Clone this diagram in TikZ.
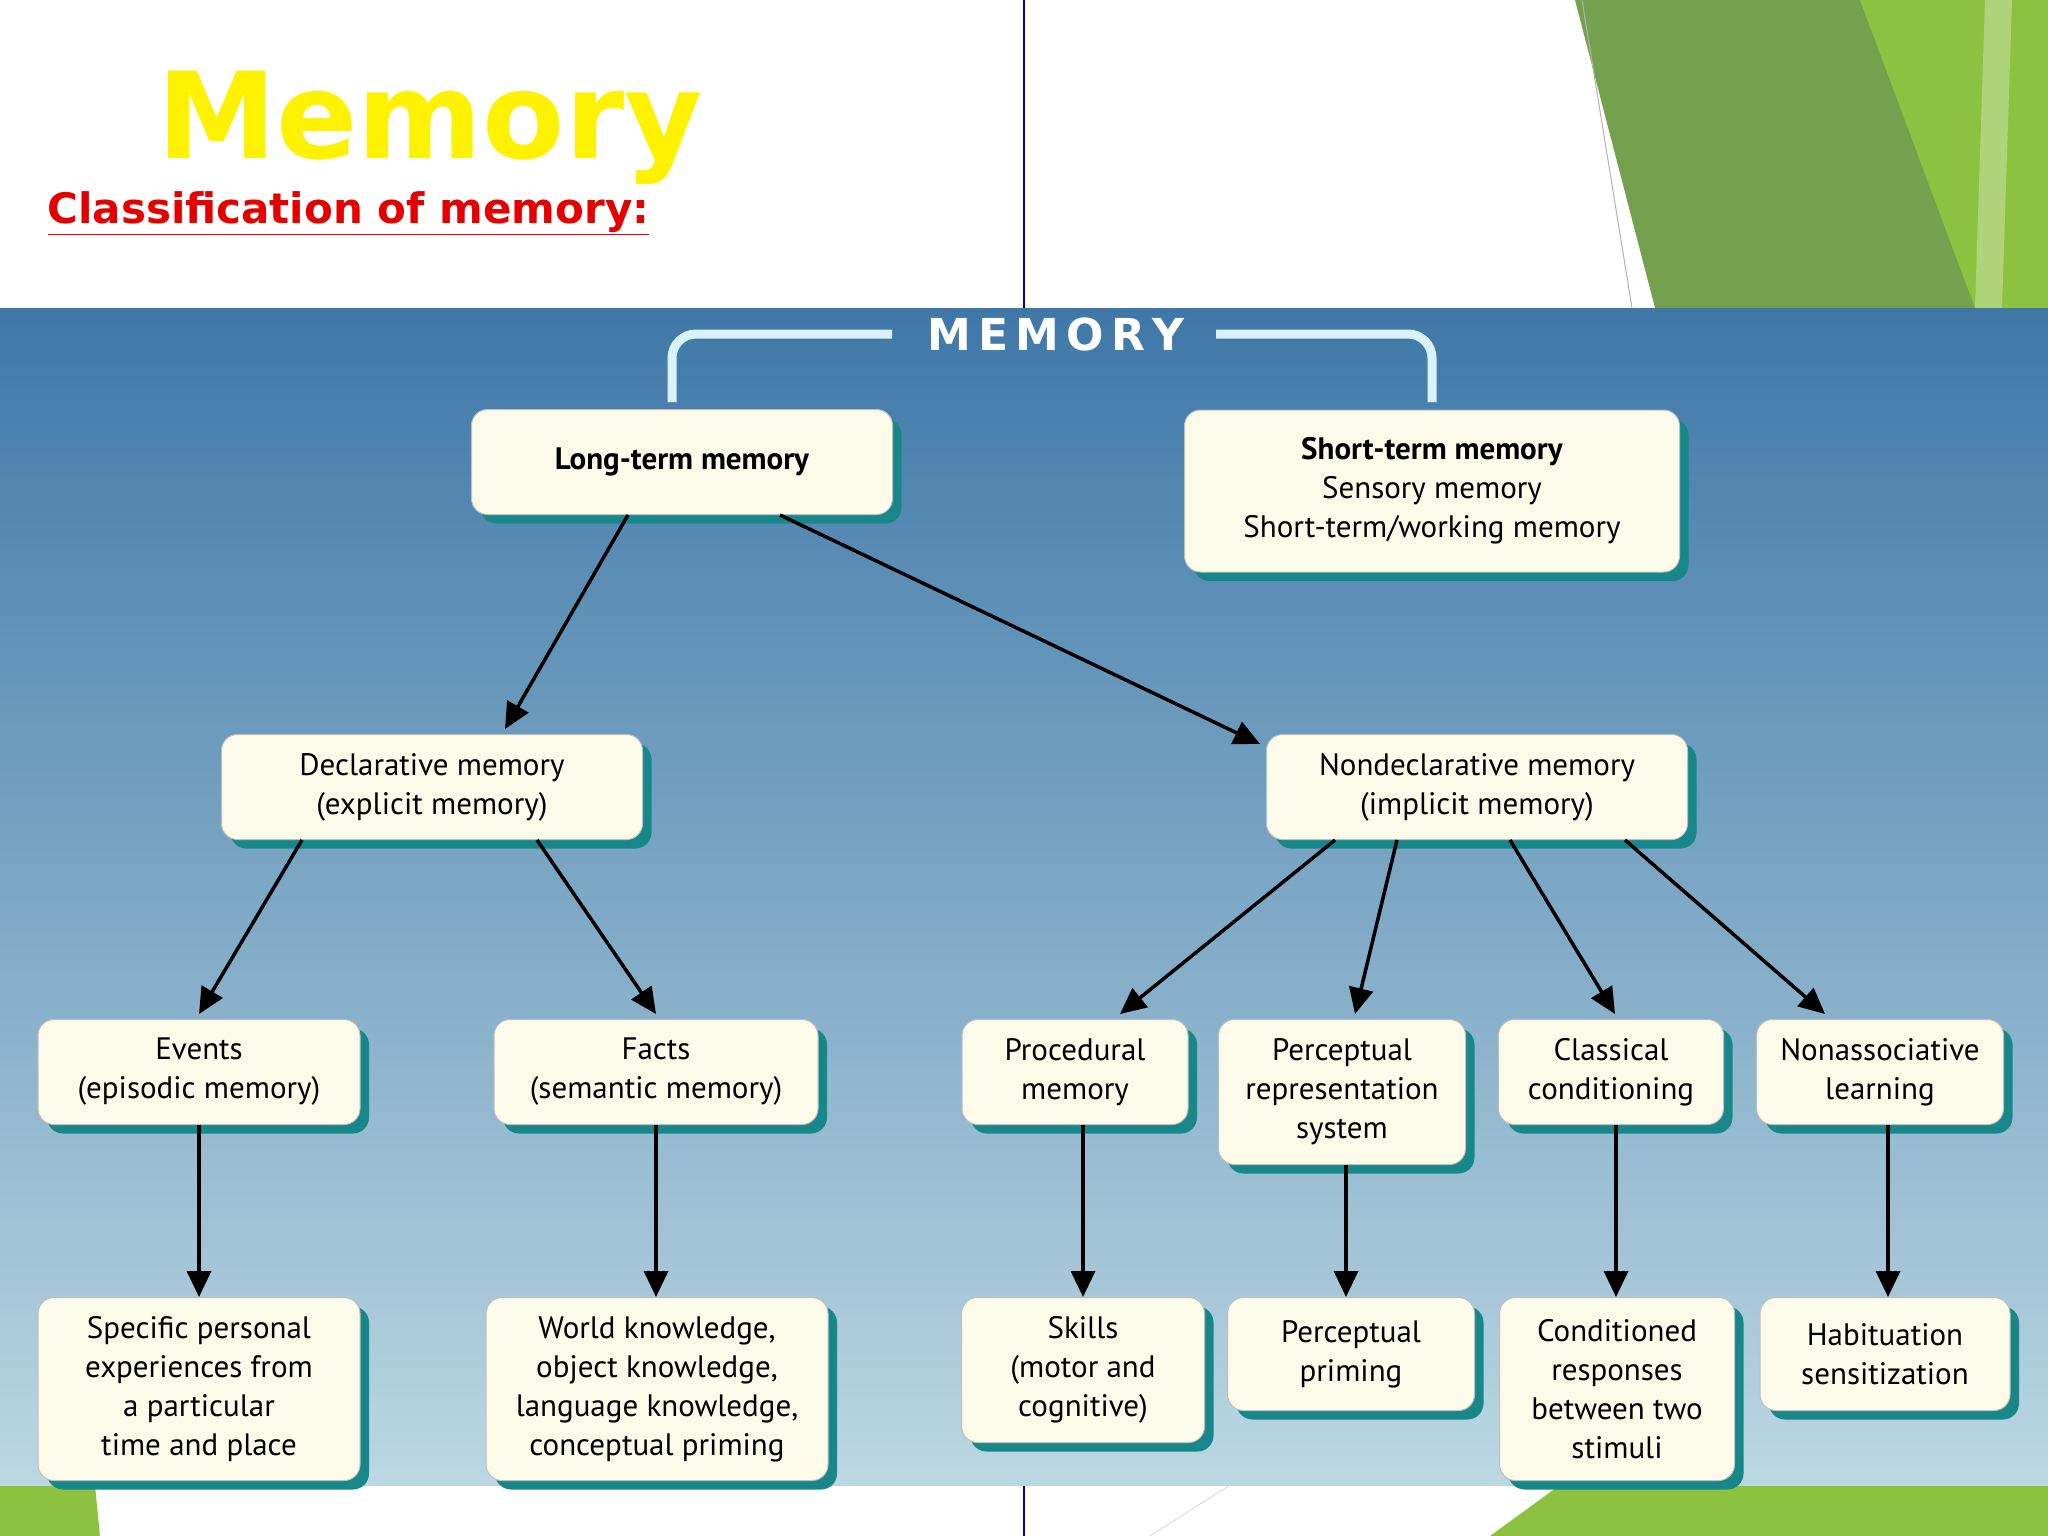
\documentclass[tikz,border=0pt]{standalone}
\usepackage{fontspec}
\setmainfont{PT Sans}
\newfontfamily\titlefont{DejaVu Sans}
\usetikzlibrary{shadows,calc,arrows.meta}
\definecolor{cream}{HTML}{FCFBEA}
\definecolor{shad}{HTML}{17878A}
\definecolor{topblue}{HTML}{3F78A8}
\definecolor{botblue}{HTML}{BBD7E2}
\definecolor{gdark}{HTML}{75A04E}
\definecolor{glight}{HTML}{8CC23F}
\begin{document}
\begin{tikzpicture}[x=1pt,y=-1pt,
  box/.style={fill=cream, draw=gray!50, line width=1pt, rounded corners=16pt, align=center,
    font=\fontsize{31}{39}\selectfont, inner sep=0pt,
    general shadow={fill=shad, shadow xshift=9pt, shadow yshift=-9pt}},
  arr/.style={line width=3.5pt, -{Triangle[length=26pt,width=24pt]}}]
\useasboundingbox (0,0) rectangle (2048,1536);
\fill[white] (0,0) rectangle (2048,1536);
% green decorations
\fill[gdark] (1575,0) -- (2048,0) -- (2048,308) -- (1655,308) -- cycle;
\fill[glight] (1860,0) -- (2048,0) -- (2048,308) -- (1975,308) -- cycle;
\fill[glight!70!white] (1985,0) -- (2012,0) -- (2002,308) -- (1975,308) -- cycle;
\draw[gray!60, line width=1pt] (1582,0) -- (1632,308);
\fill[glight] (0,1485) -- (95,1485) -- (100,1536) -- (0,1536) -- cycle;
\fill[glight] (1490,1536) -- (1560,1485) -- (2048,1485) -- (2048,1536) -- cycle;
\draw[gray!50] (1150,1536) -- (1230,1485);
% vertical line
\draw[blue!70!black, line width=2pt] (1024,0) -- (1024,308);
\draw[blue!70!black, line width=2pt] (1024,1485) -- (1024,1536);
% panel
\shade[top color=topblue, bottom color=botblue] (0,308) rectangle (2048,1485);
% titles
\node[font=\titlefont\bfseries\fontsize{120}{130}\selectfont, text=yellow, anchor=center] (title) at (430,128) {Memory};
\node[font=\titlefont\bfseries\fontsize{42}{48}\selectfont, text=red!90!black, anchor=west] (sub) at (44,213) {\underline{Classification of memory:}};
% MEMORY bracket
\node[font=\titlefont\bfseries\fontsize{44}{50}\selectfont, text=white] (mem) at (1056,334) {M\,E\,M\,O\,R\,Y};
\draw[cyan!15!white, line width=9pt, rounded corners=24pt] (672,402) -- (672,334) -- (892,334);
\draw[cyan!15!white, line width=9pt, rounded corners=24pt] (1216,334) -- (1432,334) -- (1432,402);
% boxes
\node[box, minimum width=421pt, minimum height=105pt] (ltm) at (682,462) {\textbf{Long-term memory}};
\node[box, minimum width=495pt, minimum height=162pt] (stm) at (1432,491) {\textbf{Short-term memory}\\Sensory memory\\Short-term/working memory};
\node[box, minimum width=421pt, minimum height=105pt] (dec) at (432,787) {Declarative memory\\(explicit memory)};
\node[box, minimum width=421pt, minimum height=105pt] (nd) at (1477,787) {Nondeclarative memory\\(implicit memory)};
\node[box, minimum width=322pt, minimum height=105pt] (ev) at (199,1072) {Events\\(episodic memory)};
\node[box, minimum width=324pt, minimum height=105pt] (fa) at (656,1072) {Facts\\(semantic memory)};
\node[box, minimum width=226pt, minimum height=105pt] (pr) at (1075,1072) {Procedural\\memory};
\node[box, minimum width=247pt, minimum height=145pt] (prs) at (1342,1092) {Perceptual\\representation\\system};
\node[box, minimum width=225pt, minimum height=105pt] (cl) at (1611,1072) {Classical\\conditioning};
\node[box, minimum width=247pt, minimum height=105pt] (na) at (1880,1072) {Nonassociative\\learning};
\node[box, minimum width=322pt, minimum height=183pt] (sp) at (199,1389) {Specific personal\\experiences from\\a particular\\time and place};
\node[box, minimum width=342pt, minimum height=183pt] (wk) at (657,1389) {World knowledge,\\object knowledge,\\language knowledge,\\conceptual priming};
\node[box, minimum width=243pt, minimum height=145pt] (sk) at (1083,1370) {Skills\\(motor and\\cognitive)};
\node[box, minimum width=247pt, minimum height=113pt] (pp) at (1351,1354) {Perceptual\\priming};
\node[box, minimum width=235pt, minimum height=183pt] (co) at (1617,1389) {Conditioned\\responses\\between two\\stimuli};
\node[box, minimum width=250pt, minimum height=113pt] (hb) at (1885,1354) {Habituation\\sensitization};
% arrows
\draw[arr] ($(ltm.south)+(-54,0)$) -- ($(dec.north)+(73,-5)$);
\draw[arr] ($(ltm.south)+(98,0)$) -- ($(nd.north west)+(-6,10)$);
\draw[arr] ($(dec.south)+(-130,0)$) -- ($(ev.north)+(0,-5)$);
\draw[arr] ($(dec.south)+(105,0)$) -- ($(fa.north)+(0,-5)$);
\draw[arr] ($(nd.south)+(-142,0)$) -- ($(pr.north)+(45,-5)$);
\draw[arr] ($(nd.south)+(-80,0)$) -- ($(prs.north)+(13,-5)$);
\draw[arr] ($(nd.south)+(33,0)$) -- ($(cl.north)+(4,-5)$);
\draw[arr] ($(nd.south)+(148,0)$) -- ($(na.north)+(-55,-5)$);
\draw[arr] (ev.south) -- (ev.south |- sp.north);
\draw[arr] (fa.south) -- (fa.south |- wk.north);
\draw[arr] ($(pr.south)+(8,0)$) -- ($(pr.south |- sk.north)+(8,0)$);
\draw[arr] ($(prs.south)+(4,0)$) -- ($(prs.south |- pp.north)+(4,0)$);
\draw[arr] ($(cl.south)+(5,0)$) -- ($(cl.south |- co.north)+(5,0)$);
\draw[arr] ($(na.south)+(8,0)$) -- ($(na.south |- hb.north)+(8,0)$);
\end{tikzpicture}
\end{document}
